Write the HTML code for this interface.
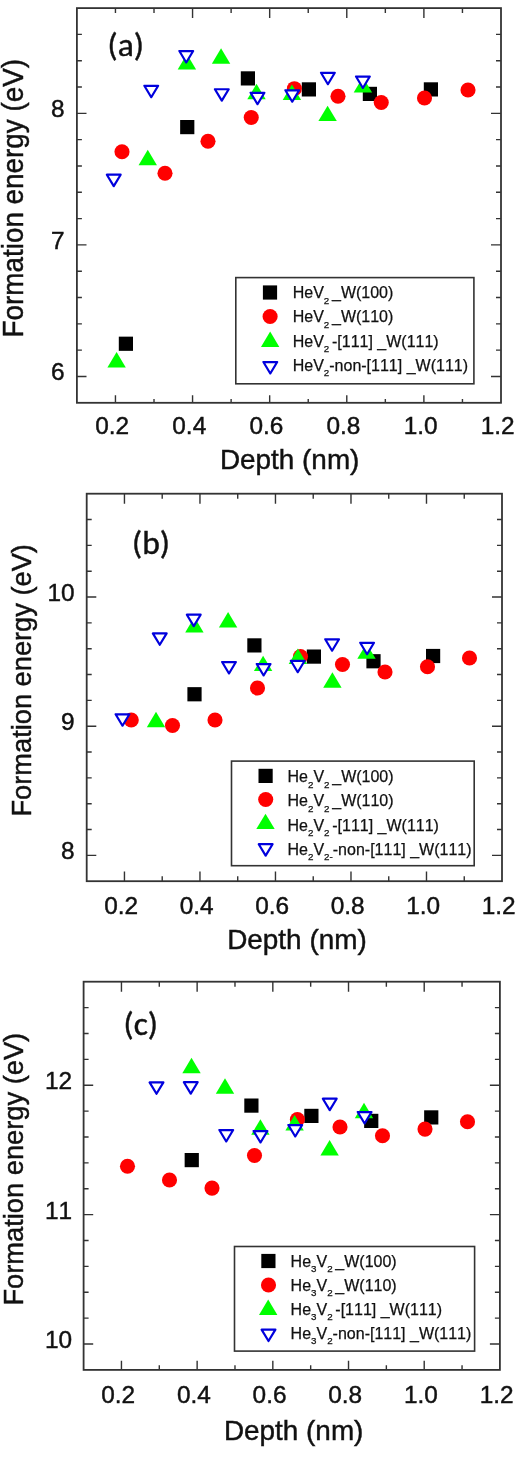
<!DOCTYPE html>
<html><head><meta charset="utf-8"><title>Formation energy vs depth</title>
<style>
html,body{margin:0;padding:0;background:#fff;}
body{width:520px;height:1457px;overflow:hidden;}
svg{display:block;}
text{font-kerning:none;font-feature-settings:"kern" 0;stroke:#111;stroke-width:0.45px;}
.tl{font-family:"Liberation Sans",Arial,sans-serif;font-size:24.4px;fill:#111111;}
.al{font-family:"Liberation Sans",Arial,sans-serif;font-size:27.9px;fill:#111111;}
.pl{font-family:"Carlito","Liberation Sans",sans-serif;font-size:33.5px;fill:#111111;}
.lg{stroke-width:0.25px;font-family:"Liberation Sans",Arial,sans-serif;font-size:16px;fill:#111111;}
.sub{font-size:9.8px;}
</style></head><body>
<svg width="520" height="1457" viewBox="0 0 520 1457">
<rect width="520" height="1457" fill="#fff"/>
<path d="M115.45 402.8V395.3M115.45 8.1V13.1M154.01 402.8V399M154.01 8.1V13.1M192.56 402.8V395.3M192.56 8.1V18.1M231.12 402.8V399M231.12 8.1V13.1M269.67 402.8V395.3M269.67 8.1V18.1M308.23 402.8V399M308.23 8.1V13.1M346.78 402.8V395.3M346.78 8.1V18.1M385.34 402.8V399M385.34 8.1V13.1M423.89 402.8V395.3M423.89 8.1V18.1M462.45 402.8V399M462.45 8.1V13.1M76.9 376.49H86.5M501 376.49H491M76.9 350.17H81.9M501 350.17H496M76.9 323.86H81.9M501 323.86H496M76.9 297.55H81.9M501 297.55H496M76.9 271.23H81.9M501 271.23H496M76.9 244.92H86.5M501 244.92H491M76.9 218.61H81.9M501 218.61H496M76.9 192.29H81.9M501 192.29H496M76.9 165.98H81.9M501 165.98H496M76.9 139.67H81.9M501 139.67H496M76.9 113.35H86.5M501 113.35H491M76.9 87.04H81.9M501 87.04H496M76.9 60.73H81.9M501 60.73H496M76.9 34.41H81.9M501 34.41H496" stroke="#333333" stroke-width="1.4" fill="none"/>
<rect x="76.9" y="8.1" width="424.1" height="394.7" fill="none" stroke="#333333" stroke-width="1.8"/>
<text x="112.15" y="433.5" class="tl" text-anchor="middle">0.2</text>
<text x="189.26" y="433.5" class="tl" text-anchor="middle">0.4</text>
<text x="266.37" y="433.5" class="tl" text-anchor="middle">0.6</text>
<text x="343.48" y="433.5" class="tl" text-anchor="middle">0.8</text>
<text x="420.59" y="433.5" class="tl" text-anchor="middle">1.0</text>
<text x="497.7" y="433.5" class="tl" text-anchor="middle">1.2</text>
<text x="64.6" y="380.39" class="tl" text-anchor="end">6</text>
<text x="64.6" y="248.82" class="tl" text-anchor="end">7</text>
<text x="64.6" y="117.25" class="tl" text-anchor="end">8</text>
<text class="al" style="font-size:27.86px" transform="translate(22.6 337.48) rotate(-90) scale(1 1.03)">Formation energy (eV)</text>
<text class="al" x="219.91" y="468.8">Depth (nm)</text>
<text class="pl" x="125.8" y="55.8" text-anchor="middle">(a)</text>
<rect x="118.8" y="336.65" width="14.2" height="14.2" fill="#000000"/>
<rect x="180.15" y="120" width="14.2" height="14.2" fill="#000000"/>
<rect x="240.8" y="71.3" width="14.2" height="14.2" fill="#000000"/>
<rect x="301.8" y="82.3" width="14.2" height="14.2" fill="#000000"/>
<rect x="362.8" y="86.8" width="14.2" height="14.2" fill="#000000"/>
<rect x="423.8" y="82.3" width="14.2" height="14.2" fill="#000000"/>
<circle cx="122" cy="151.75" r="7.55" fill="#ff0000"/>
<circle cx="165" cy="173.25" r="7.55" fill="#ff0000"/>
<circle cx="208" cy="141.25" r="7.55" fill="#ff0000"/>
<circle cx="251.25" cy="117.5" r="7.55" fill="#ff0000"/>
<circle cx="294.4" cy="88.7" r="7.55" fill="#ff0000"/>
<circle cx="338" cy="96.25" r="7.55" fill="#ff0000"/>
<circle cx="381.25" cy="102.5" r="7.55" fill="#ff0000"/>
<circle cx="424.5" cy="98" r="7.55" fill="#ff0000"/>
<circle cx="468" cy="90" r="7.55" fill="#ff0000"/>
<polygon points="116.6,352.05 125.8,367.45 107.4,367.45" fill="#00ff00"/>
<polygon points="147.75,149.8 156.95,165.2 138.55,165.2" fill="#00ff00"/>
<polygon points="186.9,54.1 196.1,69.5 177.7,69.5" fill="#00ff00"/>
<polygon points="221.05,48.35 230.25,63.75 211.85,63.75" fill="#00ff00"/>
<polygon points="256.5,83.8 265.7,99.2 247.3,99.2" fill="#00ff00"/>
<polygon points="291.9,84.55 301.1,99.95 282.7,99.95" fill="#00ff00"/>
<polygon points="327.6,105.7 336.8,121.1 318.4,121.1" fill="#00ff00"/>
<polygon points="362.9,77.1 372.1,92.5 353.7,92.5" fill="#00ff00"/>
<polygon points="106.85,174.7 120.65,174.7 113.75,186.1" fill="#fff" stroke="#0000dd" stroke-width="2.2" stroke-linejoin="round"/>
<polygon points="144.35,85.8 158.15,85.8 151.25,97.2" fill="#fff" stroke="#0000dd" stroke-width="2.2" stroke-linejoin="round"/>
<polygon points="179.35,51.05 193.15,51.05 186.25,62.45" fill="#fff" stroke="#0000dd" stroke-width="2.2" stroke-linejoin="round"/>
<polygon points="214.9,89.25 228.7,89.25 221.8,100.65" fill="#fff" stroke="#0000dd" stroke-width="2.2" stroke-linejoin="round"/>
<polygon points="250.6,92.8 264.4,92.8 257.5,104.2" fill="#fff" stroke="#0000dd" stroke-width="2.2" stroke-linejoin="round"/>
<polygon points="285.35,90.3 299.15,90.3 292.25,101.7" fill="#fff" stroke="#0000dd" stroke-width="2.2" stroke-linejoin="round"/>
<polygon points="321,72.8 334.8,72.8 327.9,84.2" fill="#fff" stroke="#0000dd" stroke-width="2.2" stroke-linejoin="round"/>
<polygon points="356,76.55 369.8,76.55 362.9,87.95" fill="#fff" stroke="#0000dd" stroke-width="2.2" stroke-linejoin="round"/>
<rect x="235.8" y="277.6" width="238.1" height="106.2" fill="#fff" stroke="#333333" stroke-width="1.6"/>
<rect x="262.9" y="285.4" width="14.2" height="14.2" fill="#000000"/>
<text class="lg" x="292.69" y="298.2">HeV<tspan class="sub" dy="5.5">2&#160;</tspan><tspan dy="-5.5">_W(100)</tspan></text>
<circle cx="270.1" cy="316.5" r="7.55" fill="#ff0000"/>
<text class="lg" x="292.69" y="322.4">HeV<tspan class="sub" dy="5.5">2&#160;</tspan><tspan dy="-5.5">_W(110)</tspan></text>
<polygon points="270.15,331.5 279.35,346.9 260.95,346.9" fill="#00ff00"/>
<text class="lg" x="292.69" y="346.6">HeV<tspan class="sub" dy="5.5">2&#160;</tspan><tspan dy="-5.5">-[111]&#160;_W(111)</tspan></text>
<polygon points="263.4,362.05 277.2,362.05 270.3,373.45" fill="#fff" stroke="#0000dd" stroke-width="2.2" stroke-linejoin="round"/>
<text class="lg" x="292.69" y="370.9">HeV<tspan class="sub" dy="5.5">2</tspan><tspan dy="-5.5">-non-[111]&#160;_W(111)</tspan></text>
<path d="M124.45 881.2V871.4M124.45 493.7V503.7M162.21 881.2V876.2M162.21 493.7V498.7M199.96 881.2V871.4M199.96 493.7V503.7M237.72 881.2V876.2M237.72 493.7V498.7M275.47 881.2V871.4M275.47 493.7V503.7M313.23 881.2V876.2M313.23 493.7V498.7M350.98 881.2V871.4M350.98 493.7V503.7M388.74 881.2V876.2M388.74 493.7V498.7M426.49 881.2V871.4M426.49 493.7V503.7M464.25 881.2V876.2M464.25 493.7V498.7M86.7 855.37H96.3M502 855.37H492M86.7 829.53H91.7M502 829.53H497M86.7 803.7H91.7M502 803.7H497M86.7 777.87H91.7M502 777.87H497M86.7 752.03H91.7M502 752.03H497M86.7 726.2H96.3M502 726.2H492M86.7 700.37H91.7M502 700.37H497M86.7 674.53H91.7M502 674.53H497M86.7 648.7H91.7M502 648.7H497M86.7 622.87H91.7M502 622.87H497M86.7 597.03H96.3M502 597.03H492M86.7 571.2H91.7M502 571.2H497M86.7 545.37H91.7M502 545.37H497M86.7 519.53H91.7M502 519.53H497" stroke="#333333" stroke-width="1.4" fill="none"/>
<rect x="86.7" y="493.7" width="415.3" height="387.5" fill="none" stroke="#333333" stroke-width="1.8"/>
<text x="121.15" y="913.9" class="tl" text-anchor="middle">0.2</text>
<text x="196.66" y="913.9" class="tl" text-anchor="middle">0.4</text>
<text x="272.17" y="913.9" class="tl" text-anchor="middle">0.6</text>
<text x="347.68" y="913.9" class="tl" text-anchor="middle">0.8</text>
<text x="423.19" y="913.9" class="tl" text-anchor="middle">1.0</text>
<text x="498.7" y="913.9" class="tl" text-anchor="middle">1.2</text>
<text x="74.6" y="859.27" class="tl" text-anchor="end">8</text>
<text x="74.6" y="730.1" class="tl" text-anchor="end">9</text>
<text x="74.6" y="600.93" class="tl" text-anchor="end">10</text>
<text class="al" style="font-size:27.24px" transform="translate(30.8 816.53) rotate(-90) scale(1 1.03)">Formation energy (eV)</text>
<text class="al" x="227.21" y="948.8">Depth (nm)</text>
<text class="pl" x="151.05" y="553.6" text-anchor="middle">(b)</text>
<rect x="187.4" y="687.15" width="14.2" height="14.2" fill="#000000"/>
<rect x="247.3" y="638.3" width="14.2" height="14.2" fill="#000000"/>
<rect x="306.8" y="649.5" width="14.2" height="14.2" fill="#000000"/>
<rect x="366.4" y="654.15" width="14.2" height="14.2" fill="#000000"/>
<rect x="426" y="648.9" width="14.2" height="14.2" fill="#000000"/>
<circle cx="131.25" cy="720" r="7.55" fill="#ff0000"/>
<circle cx="172.5" cy="725.5" r="7.55" fill="#ff0000"/>
<circle cx="215" cy="720" r="7.55" fill="#ff0000"/>
<circle cx="257.5" cy="688" r="7.55" fill="#ff0000"/>
<circle cx="300.5" cy="656.5" r="7.55" fill="#ff0000"/>
<circle cx="342.5" cy="664.5" r="7.55" fill="#ff0000"/>
<circle cx="385" cy="672" r="7.55" fill="#ff0000"/>
<circle cx="427.5" cy="666.75" r="7.55" fill="#ff0000"/>
<circle cx="469.5" cy="658" r="7.55" fill="#ff0000"/>
<polygon points="156,711.8 165.2,727.2 146.8,727.2" fill="#00ff00"/>
<polygon points="194.4,617.1 203.6,632.5 185.2,632.5" fill="#00ff00"/>
<polygon points="228.1,612.05 237.3,627.45 218.9,627.45" fill="#00ff00"/>
<polygon points="263.1,655.7 272.3,671.1 253.9,671.1" fill="#00ff00"/>
<polygon points="297.9,648.55 307.1,663.95 288.7,663.95" fill="#00ff00"/>
<polygon points="332.4,672.3 341.6,687.7 323.2,687.7" fill="#00ff00"/>
<polygon points="366.5,643.4 375.7,658.8 357.3,658.8" fill="#00ff00"/>
<polygon points="115.6,714.3 129.4,714.3 122.5,725.7" fill="#fff" stroke="#0000dd" stroke-width="2.2" stroke-linejoin="round"/>
<polygon points="152.85,633.4 166.65,633.4 159.75,644.8" fill="#fff" stroke="#0000dd" stroke-width="2.2" stroke-linejoin="round"/>
<polygon points="186.85,614.7 200.65,614.7 193.75,626.1" fill="#fff" stroke="#0000dd" stroke-width="2.2" stroke-linejoin="round"/>
<polygon points="222.1,662.05 235.9,662.05 229,673.45" fill="#fff" stroke="#0000dd" stroke-width="2.2" stroke-linejoin="round"/>
<polygon points="256.7,664.05 270.5,664.05 263.6,675.45" fill="#fff" stroke="#0000dd" stroke-width="2.2" stroke-linejoin="round"/>
<polygon points="290.85,660.8 304.65,660.8 297.75,672.2" fill="#fff" stroke="#0000dd" stroke-width="2.2" stroke-linejoin="round"/>
<polygon points="325.2,639.3 339,639.3 332.1,650.7" fill="#fff" stroke="#0000dd" stroke-width="2.2" stroke-linejoin="round"/>
<polygon points="360.2,642.8 374,642.8 367.1,654.2" fill="#fff" stroke="#0000dd" stroke-width="2.2" stroke-linejoin="round"/>
<rect x="231.5" y="761.1" width="242.7" height="104.6" fill="#fff" stroke="#333333" stroke-width="1.6"/>
<rect x="258.5" y="768.8" width="14.2" height="14.2" fill="#000000"/>
<text class="lg" x="287.49" y="782.2">He<tspan class="sub" dy="5.5">2</tspan><tspan dy="-5.5">V</tspan><tspan class="sub" dy="5.5">2&#160;</tspan><tspan dy="-5.5">_W(100)</tspan></text>
<circle cx="265.7" cy="799.5" r="7.55" fill="#ff0000"/>
<text class="lg" x="287.49" y="806.3">He<tspan class="sub" dy="5.5">2</tspan><tspan dy="-5.5">V</tspan><tspan class="sub" dy="5.5">2&#160;</tspan><tspan dy="-5.5">_W(110)</tspan></text>
<polygon points="265.5,813.7 274.7,829.1 256.3,829.1" fill="#00ff00"/>
<text class="lg" x="287.49" y="830.5">He<tspan class="sub" dy="5.5">2</tspan><tspan dy="-5.5">V</tspan><tspan class="sub" dy="5.5">2&#160;</tspan><tspan dy="-5.5">-[111]&#160;_W(111)</tspan></text>
<polygon points="258.75,844.2 272.55,844.2 265.65,855.6" fill="#fff" stroke="#0000dd" stroke-width="2.2" stroke-linejoin="round"/>
<text class="lg" x="287.49" y="854.7">He<tspan class="sub" dy="5.5">2</tspan><tspan dy="-5.5">V</tspan><tspan class="sub" dy="5.5">2-</tspan><tspan dy="-5.5">-non-[111]&#160;_W(111)</tspan></text>
<path d="M121.45 1369.9V1360.7M121.45 981.7V991.7M159.29 1369.9V1365.3M159.29 981.7V986.7M197.14 1369.9V1360.7M197.14 981.7V991.7M234.98 1369.9V1365.3M234.98 981.7V986.7M272.83 1369.9V1360.7M272.83 981.7V991.7M310.67 1369.9V1365.3M310.67 981.7V986.7M348.52 1369.9V1360.7M348.52 981.7V991.7M386.36 1369.9V1365.3M386.36 981.7V986.7M424.21 1369.9V1360.7M424.21 981.7V991.7M462.05 1369.9V1365.3M462.05 981.7V986.7M83.6 1344.02H93.2M499.9 1344.02H489.9M83.6 1318.14H88.6M499.9 1318.14H494.9M83.6 1292.26H88.6M499.9 1292.26H494.9M83.6 1266.38H88.6M499.9 1266.38H494.9M83.6 1240.5H88.6M499.9 1240.5H494.9M83.6 1214.62H93.2M499.9 1214.62H489.9M83.6 1188.74H88.6M499.9 1188.74H494.9M83.6 1162.86H88.6M499.9 1162.86H494.9M83.6 1136.98H88.6M499.9 1136.98H494.9M83.6 1111.1H88.6M499.9 1111.1H494.9M83.6 1085.22H93.2M499.9 1085.22H489.9M83.6 1059.34H88.6M499.9 1059.34H494.9M83.6 1033.46H88.6M499.9 1033.46H494.9M83.6 1007.58H88.6M499.9 1007.58H494.9" stroke="#333333" stroke-width="1.4" fill="none"/>
<rect x="83.6" y="981.7" width="416.3" height="388.2" fill="none" stroke="#333333" stroke-width="1.8"/>
<text x="118.15" y="1402.6" class="tl" text-anchor="middle">0.2</text>
<text x="193.84" y="1402.6" class="tl" text-anchor="middle">0.4</text>
<text x="269.53" y="1402.6" class="tl" text-anchor="middle">0.6</text>
<text x="345.22" y="1402.6" class="tl" text-anchor="middle">0.8</text>
<text x="420.91" y="1402.6" class="tl" text-anchor="middle">1.0</text>
<text x="496.6" y="1402.6" class="tl" text-anchor="middle">1.2</text>
<text x="72.1" y="1347.92" class="tl" text-anchor="end">10</text>
<text x="72.1" y="1218.52" class="tl" text-anchor="end">11</text>
<text x="72.1" y="1089.12" class="tl" text-anchor="end">12</text>
<text class="al" style="font-size:27.27px" transform="translate(22.6 1305.54) rotate(-90) scale(1 1.03)">Formation energy (eV)</text>
<text class="al" x="223.91" y="1439.8">Depth (nm)</text>
<text class="pl" x="140.75" y="1034.6" text-anchor="middle">(c)</text>
<rect x="184.65" y="1153" width="14.2" height="14.2" fill="#000000"/>
<rect x="244.3" y="1098.5" width="14.2" height="14.2" fill="#000000"/>
<rect x="304.3" y="1108.8" width="14.2" height="14.2" fill="#000000"/>
<rect x="364.15" y="1113.8" width="14.2" height="14.2" fill="#000000"/>
<rect x="424.15" y="1110.3" width="14.2" height="14.2" fill="#000000"/>
<circle cx="127.5" cy="1166.25" r="7.55" fill="#ff0000"/>
<circle cx="169.5" cy="1180" r="7.55" fill="#ff0000"/>
<circle cx="212" cy="1188.1" r="7.55" fill="#ff0000"/>
<circle cx="254.5" cy="1155.5" r="7.55" fill="#ff0000"/>
<circle cx="297.4" cy="1119.5" r="7.55" fill="#ff0000"/>
<circle cx="340" cy="1127" r="7.55" fill="#ff0000"/>
<circle cx="382.5" cy="1135.75" r="7.55" fill="#ff0000"/>
<circle cx="425" cy="1129.1" r="7.55" fill="#ff0000"/>
<circle cx="467.5" cy="1121.75" r="7.55" fill="#ff0000"/>
<polygon points="191.5,1057.8 200.7,1073.2 182.3,1073.2" fill="#00ff00"/>
<polygon points="225,1078.3 234.2,1093.7 215.8,1093.7" fill="#00ff00"/>
<polygon points="260.4,1119.3 269.6,1134.7 251.2,1134.7" fill="#00ff00"/>
<polygon points="294.6,1115.05 303.8,1130.45 285.4,1130.45" fill="#00ff00"/>
<polygon points="329.6,1140.05 338.8,1155.45 320.4,1155.45" fill="#00ff00"/>
<polygon points="364,1102.8 373.2,1118.2 354.8,1118.2" fill="#00ff00"/>
<polygon points="149.6,1082.4 163.4,1082.4 156.5,1093.8" fill="#fff" stroke="#0000dd" stroke-width="2.2" stroke-linejoin="round"/>
<polygon points="183.85,1082.2 197.65,1082.2 190.75,1093.6" fill="#fff" stroke="#0000dd" stroke-width="2.2" stroke-linejoin="round"/>
<polygon points="219.35,1130.05 233.15,1130.05 226.25,1141.45" fill="#fff" stroke="#0000dd" stroke-width="2.2" stroke-linejoin="round"/>
<polygon points="253.6,1131.05 267.4,1131.05 260.5,1142.45" fill="#fff" stroke="#0000dd" stroke-width="2.2" stroke-linejoin="round"/>
<polygon points="288.35,1125.05 302.15,1125.05 295.25,1136.45" fill="#fff" stroke="#0000dd" stroke-width="2.2" stroke-linejoin="round"/>
<polygon points="322.85,1098.7 336.65,1098.7 329.75,1110.1" fill="#fff" stroke="#0000dd" stroke-width="2.2" stroke-linejoin="round"/>
<polygon points="357.7,1112.05 371.5,1112.05 364.6,1123.45" fill="#fff" stroke="#0000dd" stroke-width="2.2" stroke-linejoin="round"/>
<rect x="234.5" y="1246.5" width="240.1" height="104.6" fill="#fff" stroke="#333333" stroke-width="1.6"/>
<rect x="261.3" y="1253.9" width="14.2" height="14.2" fill="#000000"/>
<text class="lg" x="290.59" y="1266.6">He<tspan class="sub" dy="5.5">3</tspan><tspan dy="-5.5">V</tspan><tspan class="sub" dy="5.5">2&#160;</tspan><tspan dy="-5.5">_W(100)</tspan></text>
<circle cx="268.5" cy="1285" r="7.55" fill="#ff0000"/>
<text class="lg" x="290.59" y="1290.8">He<tspan class="sub" dy="5.5">3</tspan><tspan dy="-5.5">V</tspan><tspan class="sub" dy="5.5">2&#160;</tspan><tspan dy="-5.5">_W(110)</tspan></text>
<polygon points="268.2,1299.6 277.4,1315 259,1315" fill="#00ff00"/>
<text class="lg" x="290.59" y="1314.7">He<tspan class="sub" dy="5.5">3</tspan><tspan dy="-5.5">V</tspan><tspan class="sub" dy="5.5">2&#160;</tspan><tspan dy="-5.5">-[111]&#160;_W(111)</tspan></text>
<polygon points="261.6,1329.6 275.4,1329.6 268.5,1341" fill="#fff" stroke="#0000dd" stroke-width="2.2" stroke-linejoin="round"/>
<text class="lg" x="290.59" y="1338.9">He<tspan class="sub" dy="5.5">3</tspan><tspan dy="-5.5">V</tspan><tspan class="sub" dy="5.5">2</tspan><tspan dy="-5.5">-non-[111]&#160;_W(111)</tspan></text>
</svg>
</body></html>
